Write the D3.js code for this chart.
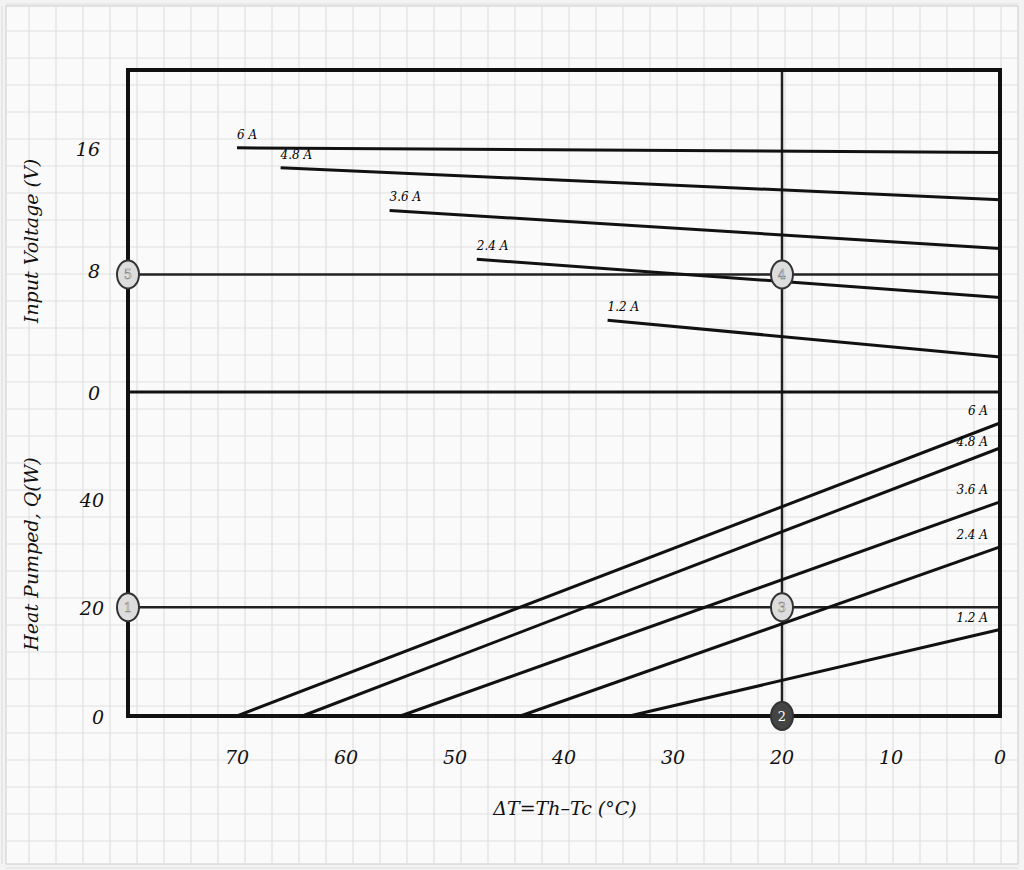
<!DOCTYPE html>
<html><head><meta charset="utf-8">
<script src="https://cdn.jsdelivr.net/npm/d3@7"></script>
<style>body{margin:0;background:#f3f3f3}svg{display:block}</style>
</head><body><svg id="c" width="1024" height="870"></svg>
<script>
// Data
const currents = ['6 A', '4.8 A', '3.6 A', '2.4 A', '1.2 A'];
// voltage lines: [dT start, V start, dT end, V end]
const voltStartDT = [70, 66, 56, 48, 36];
const voltStartV = [16.0, 14.7, 11.9, 8.7, 4.7];
const voltEndV = [15.7, 12.6, 9.4, 6.2, 2.3];
// heat lines: dT at Q=0 and Q at dT=0
const heatZeroDT = [70, 64, 55, 44, 34];
const heatEndQ = [53.9, 49.3, 39.4, 31.1, 15.9];
const xTicks = [70, 60, 50, 40, 30, 20, 10, 0];
const vTicks = [0, 8, 16];
const qTicks = [0, 20, 40];
const markers = [
  { n: '1', dt: 80, q: 20 }, { n: '2', dt: 20, q: 0, dark: true }, { n: '3', dt: 20, q: 20 },
  { n: '4', dt: 20, v: 7.7 }, { n: '5', dt: 80, v: 7.7 }
];
const refV = 7.7, refQ = 20, refDT = 20;

const svg = d3.select('#c');
const font = "'DejaVu Serif', serif";
const pLeft = 128, pRight = 1000, pTop = 70, pMid = 392, pBottom = 716;

const x = d3.scaleLinear().domain([80, 0]).range([pLeft, pRight]);
const yV = d3.scaleLinear().domain([0, 21.1]).range([pMid, pTop]);
const yQ = d3.scaleLinear().domain([0, 59.6]).range([pBottom, pMid]);

svg.append('rect').attr('x', 6).attr('y', 6).attr('width', 1012).attr('height', 858)
  .attr('fill', '#fafafa').attr('stroke', '#ccc');

// faint grid
const grid = svg.append('g').attr('stroke', '#e0e0e0').attr('stroke-width', 1.2);
d3.range(0, 1024, 27).forEach(v => grid.append('line').attr('x1', v + 2).attr('x2', v + 2).attr('y1', 6).attr('y2', 864));
d3.range(0, 870, 27).forEach(v => grid.append('line').attr('y1', v + 4).attr('y2', v + 4).attr('x1', 6).attr('x2', 1018));

// reference lines
const ref = svg.append('g').attr('stroke', '#222').attr('stroke-width', 2.5);
ref.append('line').attr('x1', x(80)).attr('x2', x(0)).attr('y1', yV(refV)).attr('y2', yV(refV));
ref.append('line').attr('x1', x(80)).attr('x2', x(0)).attr('y1', yQ(refQ)).attr('y2', yQ(refQ));
ref.append('line').attr('x1', x(refDT)).attr('x2', x(refDT)).attr('y1', pTop).attr('y2', pBottom);

// voltage curves
currents.forEach((c, i) => {
  svg.append('line').attr('x1', x(voltStartDT[i])).attr('y1', yV(voltStartV[i]))
    .attr('x2', x(0)).attr('y2', yV(voltEndV[i])).attr('stroke', '#111').attr('stroke-width', 3);
  svg.append('text').attr('x', x(voltStartDT[i])).attr('y', yV(voltStartV[i]) - 9)
    .attr('font-family', font).attr('font-size', 12).attr('font-style', 'italic').text(c);
});
// heat curves
currents.forEach((c, i) => {
  svg.append('line').attr('x1', x(heatZeroDT[i])).attr('y1', yQ(0))
    .attr('x2', x(0)).attr('y2', yQ(heatEndQ[i])).attr('stroke', '#111').attr('stroke-width', 3);
  svg.append('text').attr('x', x(0) - 12).attr('y', yQ(heatEndQ[i]) - 8 + (i === 1 ? 6 : 0))
    .attr('text-anchor', 'end').attr('font-family', font).attr('font-size', 12)
    .attr('font-style', 'italic').text(c);
});

// frame and divider
svg.append('rect').attr('x', pLeft).attr('y', pTop).attr('width', pRight - pLeft).attr('height', pBottom - pTop)
  .attr('fill', 'none').attr('stroke', '#111').attr('stroke-width', 4);
svg.append('line').attr('x1', pLeft).attr('x2', pRight).attr('y1', pMid).attr('y2', pMid)
  .attr('stroke', '#111').attr('stroke-width', 3);

// markers
markers.forEach(m => {
  const cx = x(m.dt), cy = m.v !== undefined ? yV(m.v) : yQ(m.q);
  svg.append('ellipse').attr('cx', cx).attr('cy', cy).attr('rx', 11).attr('ry', 14)
    .attr('fill', m.dark ? '#444' : '#ddd').attr('stroke', '#333').attr('stroke-width', 2);
  svg.append('text').attr('x', cx).attr('y', cy + 5).attr('text-anchor', 'middle')
    .attr('font-family', font).attr('font-size', 13).attr('fill', '#fff')
    .attr('stroke', m.dark ? 'none' : '#888').attr('stroke-width', 0.6).text(m.n);
});

// tick labels
const tickStyle = s => s.attr('font-family', font).attr('font-size', 19).attr('font-style', 'italic').attr('fill', '#111');
xTicks.forEach(t => tickStyle(svg.append('text').attr('x', x(t)).attr('y', 764).attr('text-anchor', 'middle')).text(t));
vTicks.forEach(t => tickStyle(svg.append('text').attr('x', 100).attr('y', yV(t) + 8).attr('text-anchor', 'end')).text(t));
qTicks.forEach(t => tickStyle(svg.append('text').attr('x', 104).attr('y', yQ(t) + 8).attr('text-anchor', 'end')).text(t));

// axis titles
tickStyle(svg.append('text').attr('x', 565).attr('y', 815).attr('text-anchor', 'middle')).text('ΔT=Th–Tc (°C)');
tickStyle(svg.append('text').attr('transform', `translate(38,${(pTop + pMid) / 2 + 10}) rotate(-90)`)
  .attr('text-anchor', 'middle')).text('Input Voltage (V)');
tickStyle(svg.append('text').attr('transform', `translate(38,${(pMid + pBottom) / 2}) rotate(-90)`)
  .attr('text-anchor', 'middle')).text('Heat Pumped, Q(W)');
</script></body></html>
